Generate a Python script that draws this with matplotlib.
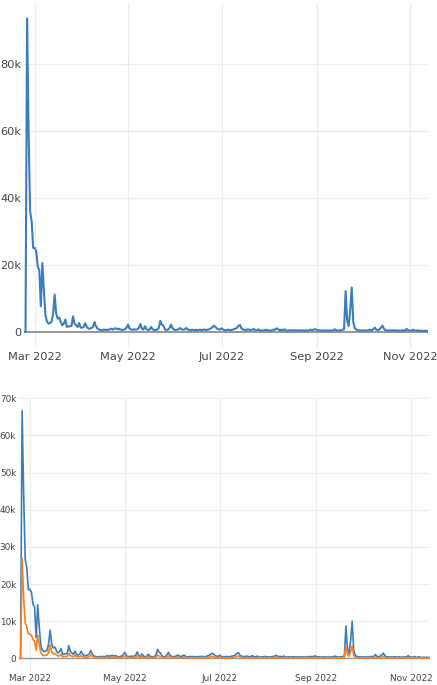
import numpy as np
import pandas as pd
import matplotlib
matplotlib.use("Agg")
import matplotlib.pyplot as plt
import matplotlib.dates as mdates
from matplotlib.ticker import FuncFormatter

# daily values in thousands, starting 2022-02-22
start_date = "2022-02-22"

blue_k = [
    0, 0, 66.7, 44, 26.5, 24.5, 18.5, 18.6, 17.8, 14.5,
    13.8, 5.5, 14.4, 8.5, 3.5, 2.2, 1.8, 1.9, 2.1, 3.9,
    7.6, 3.8, 2.8, 3.0, 2.1, 1.4, 1.8, 2.6, 1.1, 1.2,
    1.2, 1.3, 3.4, 1.8, 1.4, 1.1, 1.9, 0.9, 0.9, 1.1,
    1.9, 1.1, 0.7, 0.7, 0.9, 1.1, 2.1, 1.2, 0.7, 0.5,
    0.4, 0.3, 0.5, 0.4, 0.5, 0.4, 0.6, 0.7, 0.5, 0.7,
    0.8, 0.6, 0.7, 0.5, 0.4, 0.5, 0.6, 1.0, 1.6, 0.7,
    0.5, 0.5, 0.6, 0.5, 0.6, 0.9, 1.7, 0.7, 0.5, 1.2,
    0.6, 0.4, 0.5, 1.1, 0.6, 0.4, 0.4, 0.5, 0.9, 2.4,
    1.6, 1.4, 0.6, 0.4, 0.5, 0.9, 1.6, 0.8, 0.5, 0.4,
    0.5, 0.6, 0.9, 0.6, 0.5, 0.6, 0.9, 0.5, 0.4, 0.4,
    0.5, 0.4, 0.5, 0.4, 0.4, 0.5, 0.4, 0.5, 0.5, 0.4,
    0.5, 0.6, 0.8, 1.0, 1.4, 1.1, 0.7, 0.6, 0.5, 0.8,
    0.5, 0.4, 0.4, 0.5, 0.4, 0.4, 0.5, 0.6, 0.7, 0.9,
    1.3, 1.5, 0.8, 0.5, 0.5, 0.4, 0.6, 0.5, 0.4, 0.5,
    0.7, 0.4, 0.4, 0.6, 0.4, 0.3, 0.4, 0.4, 0.5, 0.4,
    0.4, 0.3, 0.4, 0.5, 0.5, 0.8, 0.6, 0.4, 0.5, 0.4,
    0.6, 0.4, 0.3, 0.4, 0.4, 0.3, 0.4, 0.4, 0.3, 0.4,
    0.3, 0.4, 0.4, 0.3, 0.4, 0.3, 0.4, 0.5, 0.4, 0.5,
    0.6, 0.5, 0.4, 0.4, 0.3, 0.4, 0.3, 0.4, 0.3, 0.3,
    0.4, 0.3, 0.4, 0.6, 0.4, 0.3, 0.4, 0.4, 0.5, 0.6,
    8.7, 2.5, 1.3, 4.7, 10.0, 2.2, 0.8, 0.5, 0.4, 0.4,
    0.3, 0.4, 0.3, 0.4, 0.3, 0.4, 0.5, 0.4, 0.6, 1.0,
    0.5, 0.4, 0.6, 0.9, 1.4, 0.7, 0.4, 0.4, 0.3, 0.4,
    0.3, 0.4, 0.4, 0.3, 0.4, 0.3, 0.3, 0.4, 0.3, 0.4,
    0.7, 0.4, 0.3, 0.3, 0.5, 0.3, 0.3, 0.4, 0.3, 0.2,
    0.3, 0.2, 0.3, 0.2, 0.2,
]

orange_k = [
    0, 0, 26.9, 16, 9.5, 8.5, 6.6, 6.5, 6.3, 5.0,
    4.6, 2.2, 6.2, 3.8, 1.5, 0.9, 0.7, 0.8, 0.9, 1.6,
    3.6, 1.7, 1.2, 1.3, 0.9, 0.6, 0.7, 1.1, 0.4, 0.5,
    0.5, 0.5, 1.3, 0.7, 0.6, 0.4, 0.8, 0.4, 0.4, 0.4,
    0.7, 0.4, 0.3, 0.3, 0.3, 0.4, 0.9, 0.5, 0.3, 0.2,
    0.2, 0.1, 0.2, 0.2, 0.2, 0.2, 0.2, 0.3, 0.2, 0.3,
    0.3, 0.2, 0.3, 0.2, 0.2, 0.2, 0.2, 0.4, 0.6, 0.3,
    0.2, 0.2, 0.2, 0.2, 0.2, 0.3, 0.7, 0.3, 0.2, 0.5,
    0.2, 0.2, 0.2, 0.4, 0.2, 0.2, 0.2, 0.2, 0.3, 0.9,
    0.6, 0.5, 0.2, 0.2, 0.2, 0.3, 0.6, 0.3, 0.2, 0.2,
    0.2, 0.2, 0.3, 0.2, 0.2, 0.2, 0.3, 0.2, 0.2, 0.1,
    0.2, 0.1, 0.2, 0.1, 0.2, 0.2, 0.1, 0.2, 0.2, 0.2,
    0.2, 0.2, 0.3, 0.4, 0.5, 0.4, 0.3, 0.2, 0.2, 0.3,
    0.2, 0.2, 0.1, 0.2, 0.2, 0.1, 0.2, 0.2, 0.3, 0.3,
    0.5, 0.6, 0.3, 0.2, 0.2, 0.1, 0.2, 0.2, 0.1, 0.2,
    0.2, 0.1, 0.1, 0.2, 0.1, 0.1, 0.1, 0.1, 0.2, 0.1,
    0.1, 0.1, 0.1, 0.2, 0.2, 0.3, 0.2, 0.1, 0.2, 0.1,
    0.2, 0.1, 0.1, 0.1, 0.1, 0.1, 0.1, 0.1, 0.1, 0.1,
    0.1, 0.1, 0.1, 0.1, 0.1, 0.1, 0.1, 0.2, 0.1, 0.2,
    0.2, 0.2, 0.1, 0.1, 0.1, 0.1, 0.1, 0.1, 0.1, 0.1,
    0.1, 0.1, 0.1, 0.2, 0.1, 0.1, 0.1, 0.1, 0.2, 0.2,
    3.5, 1.0, 0.5, 1.8, 3.3, 0.8, 0.3, 0.2, 0.1, 0.1,
    0.1, 0.1, 0.1, 0.1, 0.1, 0.1, 0.2, 0.1, 0.2, 0.3,
    0.2, 0.1, 0.2, 0.3, 0.5, 0.3, 0.1, 0.1, 0.1, 0.1,
    0.1, 0.1, 0.1, 0.1, 0.1, 0.1, 0.1, 0.1, 0.1, 0.1,
    0.2, 0.1, 0.1, 0.1, 0.2, 0.1, 0.1, 0.1, 0.1, 0.1,
    0.1, 0.1, 0.1, 0.1, 0.1,
]

BLUE = "#3b7dbd"
ORANGE = "#f8801f"
GRID = "#ececec"
ZERO = "#999999"
TEXT = "#444444"

dates = pd.date_range(start_date, periods=len(blue_k), freq="D")
blue = np.array(blue_k) * 1000
orange = np.array(orange_k) * 1000
total = blue + orange

W, H = 437, 685
fig = plt.figure(figsize=(W / 100, H / 100), dpi=100)


def kfmt(v, pos):
    if v == 0:
        return "0"
    return "%dk" % round(v / 1000)


def style_axis(ax, fs, ystep, zero_lw):
    for s in ax.spines.values():
        s.set_visible(False)
    ax.xaxis.set_major_locator(mdates.MonthLocator(bymonth=[3, 5, 7, 9, 11]))
    ax.xaxis.set_major_formatter(mdates.DateFormatter("%b %Y"))
    ax.yaxis.set_major_locator(plt.MultipleLocator(ystep))
    ax.yaxis.set_major_formatter(FuncFormatter(kfmt))
    ax.grid(True, color=GRID, linewidth=0.8)
    ax.set_axisbelow(True)
    ax.tick_params(length=0, labelsize=fs, labelcolor=TEXT, pad=2)
    ax.axhline(0, color=ZERO, linewidth=zero_lw, zorder=1.5)
    ax.set_xlim(dates[0], dates[-1])


# top panel: total
ax1 = fig.add_axes([24 / W, 1 - 347.7 / H, 404.3 / W, 345 / H])
style_axis(ax1, 8.2, 20000, 1.5)
ax1.plot(dates, total, color=BLUE, linewidth=1.5, zorder=2)
ax1.set_ylim(-4690, 98300)
ax1.tick_params(axis="x", pad=3)

# bottom panel: split
ax2 = fig.add_axes([19 / W, 1 - 670.7 / H, 411 / W, 272.4 / H])
style_axis(ax2, 6.4, 10000, 1.0)
ax2.plot(dates, blue, color=BLUE, linewidth=1.2, zorder=2)
ax2.plot(dates, orange, color=ORANGE, linewidth=1.2, zorder=3)
ax2.set_ylim(-3335, 70000)
ax2.tick_params(axis="x", pad=2.5)

fig.savefig("out.png", dpi=100)
